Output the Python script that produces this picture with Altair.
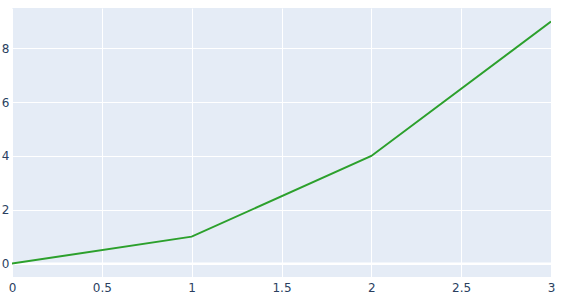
import altair as alt
import pandas as pd

xs = [0, 1, 2, 3]
ys = [0, 1, 4, 9]
x_ticks = [0, 0.5, 1, 1.5, 2, 2.5, 3]
y_ticks = [0, 2, 4, 6, 8]

df = pd.DataFrame({"x": xs, "y": ys})

FONT = "DejaVu Sans"

line = alt.Chart(df).mark_line(color="#2ca02c", strokeWidth=2, clip=True).encode(
    x=alt.X("x:Q", scale=alt.Scale(domain=[0, 3], nice=False, zero=False),
            axis=alt.Axis(values=x_ticks, title=None, domain=False, ticks=False, format="~g",
                          labelColor="#2a3f5f", labelFontSize=12, labelFont=FONT,
                          labelPadding=5, labelFlush=False, labelOverlap=False,
                          gridColor="white", gridWidth=1)),
    y=alt.Y("y:Q", scale=alt.Scale(domain=[-0.5, 9.5], nice=False, zero=False),
            axis=alt.Axis(values=y_ticks, title=None, domain=False, ticks=False, format="~g",
                          labelColor="#2a3f5f", labelFontSize=12, labelFont=FONT,
                          labelPadding=3, labelFlush=False,
                          gridColor="white", gridWidth=1)),
)

zero = alt.Chart(pd.DataFrame({"y": [0]})).mark_rule(color="white", strokeWidth=2).encode(y="y:Q")

chart = alt.layer(zero, line).properties(
    width=539, height=269,
    padding={"left": 12, "top": 8, "right": 10, "bottom": 22},
    autosize=alt.AutoSizeParams(type="none"),
    background="white",
).configure_view(fill="#E5ECF6", stroke=None)

chart.save("out.html", embed_options={"renderer": "svg", "actions": False})
